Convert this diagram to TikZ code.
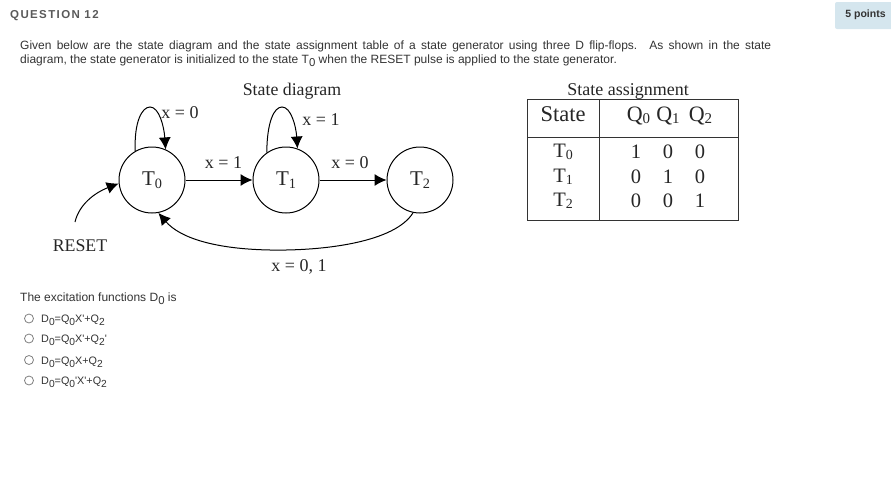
\documentclass[tikz,border=0pt]{standalone}
\usepackage{fontspec}
\setmainfont{Liberation Serif}
\newfontfamily\webfont{Liberation Sans}
\usetikzlibrary{arrows.meta}
\definecolor{webgray}{HTML}{333333}
\definecolor{badgeblue}{HTML}{D5E6EE}
\newcommand{\lowfig}[1]{\raisebox{-0.12em}{\scalebox{0.68}{#1}}}
\newcommand{\lowweb}[1]{\raisebox{-0.28em}{\scalebox{0.95}{#1}}}
\tikzset{
	webtext/.style={inner sep=0, anchor=base west, text=webgray, font=\webfont\fontsize{12}{13}\selectfont},
	opttext/.style={inner sep=0, anchor=base west, text=webgray, font=\webfont\fontsize{10.8}{13}\selectfont},
	figtext/.style={inner sep=0, text=black!85, font=\fontsize{17.8}{20}\selectfont},
	edgetext/.style={inner sep=0, text=black!85, font=\fontsize{18}{18}\selectfont},
	tabtext/.style={inner sep=0, text=black!85, font=\fontsize{20.5}{22}\selectfont},
	statenode/.style={circle, draw, line width=1pt, minimum size=66pt, inner sep=0, text=black!85, font=\fontsize{21}{22}\selectfont},
	wire/.style={line width=1pt, -{Latex[length=12pt,width=12pt]}},
	radio/.style={circle, draw=black!50, fill=white, line width=0.8pt, minimum size=9pt, inner sep=0},
}
\begin{document}
\begin{tikzpicture}[x=1pt, y=-1pt]
			%%%%% START %%%%%
			\useasboundingbox (0, 0) rectangle (891, 490);
			
			\node[inner sep=0, anchor=base west, text=black!65, font=\webfont\bfseries\fontsize{11.5}{12}\selectfont\addfontfeatures{LetterSpace=12}] (title) at (10, 18) {QUESTION 12};
			\fill[badgeblue, rounded corners=2pt] (835, 2) rectangle (895, 29);
			\node[inner sep=0, text=webgray, font=\webfont\bfseries\fontsize{10.5}{12}\selectfont] (points) at (865.5, 14.5) {5 points};
			
			\node[webtext] (line1) at (20, 49) {\makebox[751pt][s]{Given below are the state diagram and the state assignment table of a state generator using three D flip-flops.\hspace{2pt} As shown in the state}};
			\node[webtext] (line2) at (20, 63) {diagram, the state generator is initialized to the state T\lowweb{0} when the RESET pulse is applied to the state generator.};
			
			\node[figtext] (diagramtitle) at (292, 91.5) {State diagram};
			\node[statenode] (T0) at (152, 180) {T\lowfig{0}};
			\node[statenode] (T1) at (286, 180) {T\lowfig{1}};
			\node[statenode] (T2) at (420, 180) {T\lowfig{2}};
			\coordinate (resetstart) at (75, 222);
			
			\draw[wire] (T0.east) -- (T1.west);
			\draw[wire] (T1.east) -- (T2.west);
			\draw[wire] (T0.120) .. controls (134, 122) and (142, 107) .. (150, 107) .. controls (159, 107) and (164, 126) .. (T0.66);
			\draw[wire] (T1.125) .. controls (267, 122) and (274, 107) .. (282, 107) .. controls (291, 107) and (296, 126) .. (T1.70);
			\draw[wire] (resetstart) .. controls (79, 205) and (94, 193) .. (T0.186);
			\draw[wire] (T2.258) .. controls (395, 242) and (325, 251) .. (270, 250) .. controls (215, 249) and (180, 238) .. (T0.281);
			
			\node[edgetext] (selfzero) at (180, 112.5) {x = 0};
			\node[edgetext] (zeroone) at (223.5, 162.5) {x = 1};
			\node[edgetext] (selfone) at (321, 119.5) {x = 1};
			\node[edgetext] (onetwo) at (350, 162.5) {x = 0};
			\node[edgetext] (twozero) at (299, 266.5) {x = 0, 1};
			\node[figtext] (resetlabel) at (80, 246) {RESET};
			
			\node[figtext, font=\fontsize{18}{20}\selectfont] (tabletitle) at (628, 91.5) {State assignment};
			\draw[line width=0.9pt, draw=black!80] (527, 99.5) rectangle (738, 220.5);
			\draw[line width=0.9pt, draw=black!80] (527, 137) -- (738, 137);
			\draw[line width=0.9pt, draw=black!80] (599.5, 99.5) -- (599.5, 220.5);
			\node[tabtext, font=\fontsize{22.5}{22}\selectfont] (statehead) at (563, 114) {State};
			\node[tabtext, font=\fontsize{22}{22}\selectfont] (Qzero) at (638.5, 115.5) {Q\lowfig{0}};
			\node[tabtext, font=\fontsize{22}{22}\selectfont] (Qone) at (668, 115.5) {Q\lowfig{1}};
			\node[tabtext, font=\fontsize{22}{22}\selectfont] (Qtwo) at (700.5, 115.5) {Q\lowfig{2}};
			\foreach \rowname/\rowy/\a/\b/\c in {0/152/1/0/0, 1/177/0/1/0, 2/201/0/0/1} {
				\node[tabtext] (rowT\rowname) at (563, \rowy) {T\lowfig{\rowname}};
				\node[tabtext] (rowA\rowname) at (636, \rowy) {\a};
				\node[tabtext] (rowB\rowname) at (668, \rowy) {\b};
				\node[tabtext] (rowC\rowname) at (700, \rowy) {\c};
			}
			
			\node[webtext] (question) at (20, 301) {The excitation functions D\lowweb{0} is};
			\foreach \opty/\optname/\opttxt in {318.5/a/{D\lowweb{0}=Q\lowweb{0}X'+Q\lowweb{2}}, 338.5/b/{D\lowweb{0}=Q\lowweb{0}X'+Q\lowweb{2}'}, 360/c/{D\lowweb{0}=Q\lowweb{0}X+Q\lowweb{2}}, 380.5/d/{D\lowweb{0}=Q\lowweb{0}'X'+Q\lowweb{2}}} {
				\node[radio] (radio\optname) at (29, \opty) {};
				\node[opttext] (opt\optname) at (41, \opty+4) {\opttxt};
			}
			%%%%% END %%%%%
		\end{tikzpicture}
\end{document}
